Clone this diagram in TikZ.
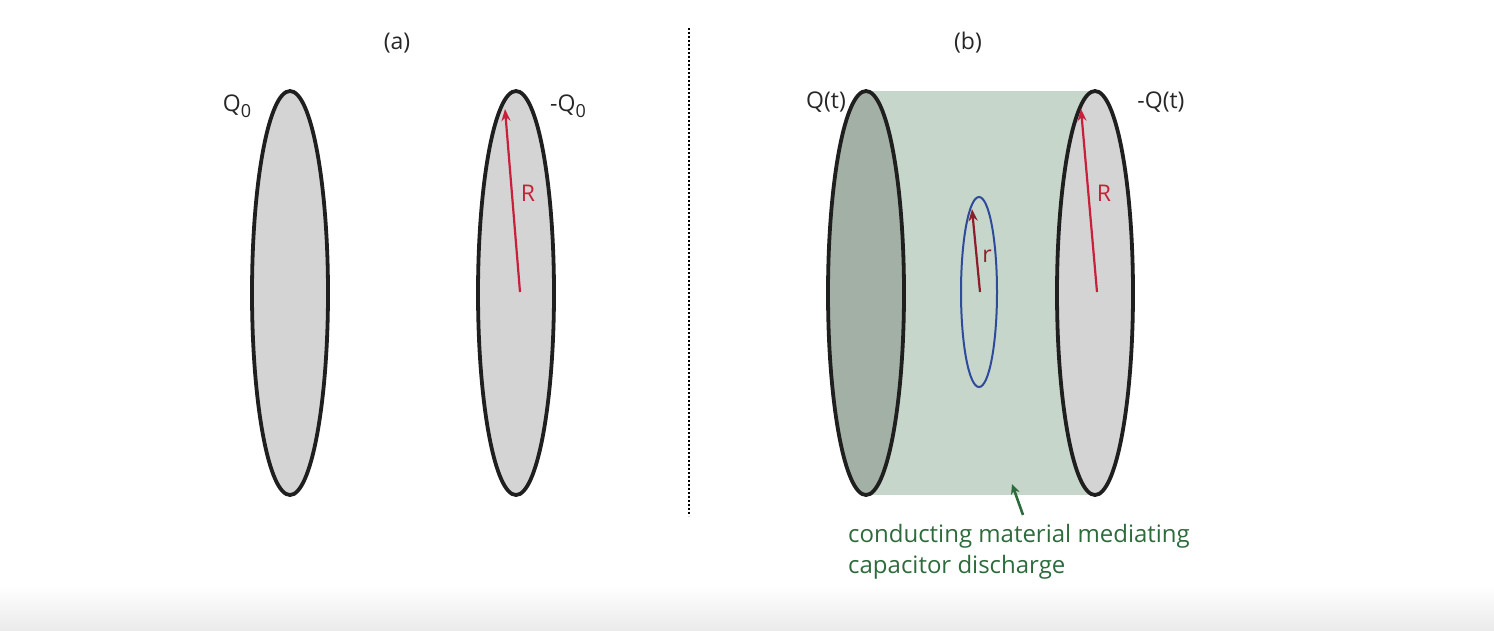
\documentclass[tikz,border=0pt]{standalone}
\usepackage{fontspec}
\setmainfont{Open Sans}
\usetikzlibrary{arrows.meta}
\definecolor{plate}{HTML}{D4D4D4}
\definecolor{darkplate}{HTML}{A3B0A5}
\definecolor{medium}{HTML}{C6D6CB}
\definecolor{rred}{HTML}{C8203A}
\definecolor{dred}{HTML}{8B1E2A}
\definecolor{gtext}{HTML}{2E6B3C}
\definecolor{bblue}{HTML}{2E4A9A}
\newcommand{\subz}{\raisebox{-0.45ex}{\fontsize{18}{20}\selectfont 0}}
\begin{document}
\begin{tikzpicture}[x=1pt,y=-1pt,
  plateline/.style={line width=3.8pt,draw=black!88},
  lab/.style={font=\fontsize{23}{30}\selectfont,text=black!85},
  vec/.style={-{Stealth[length=12pt,width=9pt]},line width=2.2pt,draw=rred}]
\useasboundingbox (0,0) rectangle (1494,630);
\shade[top color=white,bottom color=black!8] (0,585) rectangle (1494,630);
% (a)
\node[lab] (la) at (397,43) {(a)};
\draw[plateline,fill=plate] (290,293) ellipse [x radius=38,y radius=202];
\draw[plateline,fill=plate] (516,293) ellipse [x radius=38,y radius=202];
\node[lab] (q0) at (237,106) {Q\subz};
\node[lab] (mq0) at (568,106) {-Q\subz};
\coordinate (ra0) at (520,292);
\coordinate (ra1) at (505,109);
\draw[vec] (ra0) -- (ra1);
\node[lab,text=rred] (R1) at (528,193) {R};
% divider
\coordinate (d0) at (689,28); \coordinate (d1) at (689,516);
\draw[dotted,line width=2pt] (d0) -- (d1);
% (b)
\node[lab] (lb) at (968,43) {(b)};
\fill[medium] (866,91) rectangle (1095,495);
\draw[plateline,fill=darkplate] (866,293) ellipse [x radius=38,y radius=202];
\draw[plateline,fill=plate] (1095,293) ellipse [x radius=38,y radius=202];
\draw[bblue,line width=2pt] (979,292) ellipse [x radius=18,y radius=95];
\coordinate (rs0) at (980,292);
\coordinate (rs1) at (972,209);
\draw[vec,draw=dred] (rs0) -- (rs1);
\node[lab,text=dred] (r) at (987,256) {r};
\coordinate (rb0) at (1097,292);
\coordinate (rb1) at (1081,109);
\draw[vec] (rb0) -- (rb1);
\node[lab,text=rred] (R2) at (1104,193) {R};
\node[lab] (qt) at (826,102) {Q(t)};
\node[lab] (mqt) at (1161,102) {-Q(t)};
\node[lab,font=\fontsize{24}{31}\selectfont,text=gtext,align=left,anchor=north west,inner sep=0pt] (txt) at (848,524) {conducting material mediating\\capacitor discharge};
\coordinate (g0) at (1023,515);
\coordinate (g1) at (1012,484);
\draw[-{Stealth[length=10pt,width=9pt]},line width=2.6pt,draw=gtext] (g0) -- (g1);
\end{tikzpicture}
\end{document}
